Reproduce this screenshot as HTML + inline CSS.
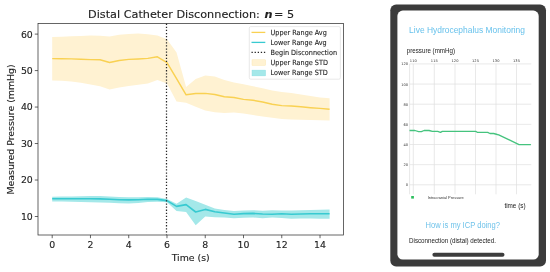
<!DOCTYPE html>
<html><head><meta charset="utf-8"><style>
html,body{margin:0;padding:0;background:#fff;width:550px;height:272px;overflow:hidden}
svg{display:block}
.tk{font-family:"DejaVu Sans",sans-serif;font-size:9.375px;fill:#222;stroke:#222;stroke-width:0.12px}
.ttl{font-family:"DejaVu Sans",sans-serif;font-size:11.25px;fill:#222;stroke:#222;stroke-width:0.12px}
.lg{font-family:"DejaVu Sans Condensed","DejaVu Sans",sans-serif;font-stretch:condensed;font-size:7.2px;fill:#222;stroke:#222;stroke-width:0.1px}
.ph{font-family:"Liberation Sans",sans-serif}
.tiny{font-family:"DejaVu Sans",sans-serif}
</style></head><body>
<svg width="550" height="272" viewBox="0 0 550 272">
<polygon points="52.20,37.10 61.77,36.80 71.33,36.30 80.90,35.90 90.46,35.50 100.03,35.70 109.59,36.50 119.16,34.80 128.72,34.10 138.28,33.60 147.85,34.20 157.41,35.40 166.98,39.20 176.55,52.50 186.11,87.00 195.68,79.00 205.24,75.50 214.81,76.50 224.37,80.00 233.94,82.40 243.50,84.30 253.06,86.20 262.63,88.30 272.19,90.40 281.76,92.00 291.32,93.00 300.89,94.40 310.45,95.90 320.02,97.40 329.58,98.20 329.58,120.50 320.02,120.30 310.45,120.10 300.89,119.80 291.32,119.40 281.76,118.90 272.19,117.80 262.63,116.60 253.06,115.00 243.50,113.40 233.94,112.40 224.37,113.10 214.81,112.30 205.24,110.60 195.68,106.70 186.11,102.70 176.55,101.50 166.98,83.50 157.41,80.00 147.85,83.40 138.28,84.80 128.72,86.00 119.16,87.50 109.59,89.40 100.03,86.20 90.46,84.50 80.90,82.80 71.33,81.50 61.77,80.70 52.20,80.50" fill="#FFF2D2"/>
<polygon points="52.20,196.70 61.77,196.60 71.33,196.50 80.90,196.20 90.46,196.00 100.03,196.00 109.59,196.50 119.16,197.00 128.72,197.30 138.28,197.20 147.85,197.00 157.41,197.30 166.98,199.10 176.55,203.80 186.11,197.50 195.68,201.00 205.24,204.70 214.81,208.40 224.37,210.00 233.94,211.10 243.50,210.50 253.06,210.20 262.63,210.70 272.19,210.20 281.76,210.40 291.32,210.40 300.89,210.20 310.45,210.00 320.02,209.70 329.58,209.40 329.58,218.80 320.02,218.80 310.45,218.60 300.89,218.60 291.32,218.80 281.76,217.90 272.19,217.50 262.63,218.20 253.06,217.50 243.50,217.80 233.94,218.20 224.37,217.50 214.81,217.20 205.24,216.50 195.68,225.30 186.11,212.00 176.55,211.00 166.98,202.30 157.41,201.80 147.85,202.00 138.28,202.90 128.72,203.60 119.16,203.20 109.59,202.70 100.03,202.40 90.46,202.20 80.90,202.00 71.33,201.80 61.77,201.60 52.20,201.40" fill="#A4E8E9"/>
<polyline points="52.20,58.60 61.77,58.70 71.33,58.90 80.90,59.20 90.46,59.60 100.03,59.70 109.59,62.50 119.16,60.50 128.72,59.40 138.28,59.00 147.85,58.40 157.41,56.80 166.98,62.60 176.55,78.70 186.11,94.80 195.68,93.50 205.24,93.40 214.81,94.50 224.37,96.80 233.94,97.50 243.50,99.40 253.06,100.30 262.63,102.00 272.19,104.20 281.76,105.60 291.32,106.00 300.89,106.80 310.45,107.70 320.02,108.40 329.58,109.20" fill="none" stroke="#F9D152" stroke-width="1.45" stroke-linejoin="round"/>
<polyline points="52.20,198.80 61.77,198.80 71.33,198.80 80.90,198.80 90.46,198.70 100.03,198.90 109.59,199.30 119.16,199.70 128.72,199.90 138.28,199.70 147.85,199.30 157.41,199.40 166.98,200.60 176.55,206.40 186.11,204.60 195.68,212.00 205.24,209.40 214.81,211.80 224.37,213.00 233.94,214.30 243.50,213.60 253.06,213.40 262.63,214.00 272.19,214.30 281.76,213.70 291.32,214.30 300.89,214.00 310.45,213.80 320.02,213.70 329.58,213.70" fill="none" stroke="#38CAD1" stroke-width="1.6" stroke-linejoin="round"/>
<line x1="166.5" y1="23.6" x2="166.5" y2="235.0" stroke="#262626" stroke-width="1.25" stroke-dasharray="1.3 1.8"/>
<rect x="38.0" y="23.5" width="305.5" height="211.5" fill="none" stroke="#333" stroke-width="0.75"/>
<line x1="34.80" y1="216.50" x2="38.0" y2="216.50" stroke="#333" stroke-width="0.75"/>
<text x="32.80" y="219.90" text-anchor="end" class="tk">10</text>
<line x1="34.80" y1="180.02" x2="38.0" y2="180.02" stroke="#333" stroke-width="0.75"/>
<text x="32.80" y="183.42" text-anchor="end" class="tk">20</text>
<line x1="34.80" y1="143.54" x2="38.0" y2="143.54" stroke="#333" stroke-width="0.75"/>
<text x="32.80" y="146.94" text-anchor="end" class="tk">30</text>
<line x1="34.80" y1="107.06" x2="38.0" y2="107.06" stroke="#333" stroke-width="0.75"/>
<text x="32.80" y="110.46" text-anchor="end" class="tk">40</text>
<line x1="34.80" y1="70.58" x2="38.0" y2="70.58" stroke="#333" stroke-width="0.75"/>
<text x="32.80" y="73.98" text-anchor="end" class="tk">50</text>
<line x1="34.80" y1="34.10" x2="38.0" y2="34.10" stroke="#333" stroke-width="0.75"/>
<text x="32.80" y="37.50" text-anchor="end" class="tk">60</text>
<line x1="52.20" y1="235.0" x2="52.20" y2="238.20" stroke="#333" stroke-width="0.75"/>
<text x="52.20" y="248.2" text-anchor="middle" class="tk">0</text>
<line x1="90.46" y1="235.0" x2="90.46" y2="238.20" stroke="#333" stroke-width="0.75"/>
<text x="90.46" y="248.2" text-anchor="middle" class="tk">2</text>
<line x1="128.72" y1="235.0" x2="128.72" y2="238.20" stroke="#333" stroke-width="0.75"/>
<text x="128.72" y="248.2" text-anchor="middle" class="tk">4</text>
<line x1="166.98" y1="235.0" x2="166.98" y2="238.20" stroke="#333" stroke-width="0.75"/>
<text x="166.98" y="248.2" text-anchor="middle" class="tk">6</text>
<line x1="205.24" y1="235.0" x2="205.24" y2="238.20" stroke="#333" stroke-width="0.75"/>
<text x="205.24" y="248.2" text-anchor="middle" class="tk">8</text>
<line x1="243.50" y1="235.0" x2="243.50" y2="238.20" stroke="#333" stroke-width="0.75"/>
<text x="243.50" y="248.2" text-anchor="middle" class="tk">10</text>
<line x1="281.76" y1="235.0" x2="281.76" y2="238.20" stroke="#333" stroke-width="0.75"/>
<text x="281.76" y="248.2" text-anchor="middle" class="tk">12</text>
<line x1="320.02" y1="235.0" x2="320.02" y2="238.20" stroke="#333" stroke-width="0.75"/>
<text x="320.02" y="248.2" text-anchor="middle" class="tk">14</text>
<text x="190.7" y="261.2" text-anchor="middle" class="tk">Time (s)</text>
<text transform="translate(14.3,129.4) rotate(-90)" text-anchor="middle" class="tk">Measured Pressure (mmHg)</text>
<text x="88.0" y="18.3" class="ttl">Distal Catheter Disconnection:</text>
<text x="264.6" y="18.3" class="ttl" font-weight="bold" font-style="italic">n</text>
<text x="274.0" y="18.3" class="ttl">= 5</text>
<rect x="249.3" y="26.6" width="91.1" height="52.6" rx="1.5" fill="#fff" fill-opacity="0.8" stroke="#e3e3e3" stroke-width="0.8"/>
<line x1="251.5" y1="32.4" x2="265.3" y2="32.4" stroke="#F9D152" stroke-width="1.3"/>
<line x1="251.5" y1="42.4" x2="265.3" y2="42.4" stroke="#38CAD1" stroke-width="1.3"/>
<line x1="251.5" y1="52.4" x2="265.3" y2="52.4" stroke="#262626" stroke-width="1.25" stroke-dasharray="1.3 1.8"/>
<rect x="252" y="59.8" width="13.6" height="5.6" fill="#FFF2D2" stroke="#FBE3A6" stroke-width="0.4"/>
<rect x="252" y="70.10000000000001" width="13.6" height="5.8" fill="#A4E8E9" stroke="#8ADDE0" stroke-width="0.4"/>
<text x="270.6" y="35.00" class="lg" textLength="56.2" lengthAdjust="spacingAndGlyphs">Upper Range Avg</text>
<text x="270.6" y="45.00" class="lg" textLength="56.0" lengthAdjust="spacingAndGlyphs">Lower Range Avg</text>
<text x="270.6" y="55.00" class="lg" textLength="66.4" lengthAdjust="spacingAndGlyphs">Begin Disconnection</text>
<text x="270.6" y="65.00" class="lg" textLength="57.3" lengthAdjust="spacingAndGlyphs">Upper Range STD</text>
<text x="270.6" y="75.00" class="lg" textLength="57.1" lengthAdjust="spacingAndGlyphs">Lower Range STD</text>
<rect x="390.3" y="4.5" width="155.7" height="262.0" rx="5.8" fill="#3b3b3b"/>
<rect x="397.4" y="10.6" width="141.3" height="249.0" rx="5.4" fill="#fff"/>
<rect x="432.4" y="252.8" width="72.1" height="4.0" rx="2.0" fill="#3d3d3d"/>
<text x="409.10" y="32.8" textLength="115.90" lengthAdjust="spacingAndGlyphs" class="ph" fill="#68C2EC" font-size="9.8" >Live Hydrocephalus Monitoring</text>
<text x="406.80" y="52.5" textLength="48.20" lengthAdjust="spacingAndGlyphs" class="ph" fill="#222" font-size="6.6" >pressure (mmHg)</text>
<line x1="413.30" y1="63.9" x2="413.30" y2="194.3" stroke="#e0e0e0" stroke-width="0.7"/>
<text x="413.30" y="61.9" text-anchor="middle" class="tiny" fill="#333" font-size="3.6">110</text>
<line x1="434.30" y1="63.9" x2="434.30" y2="194.3" stroke="#e0e0e0" stroke-width="0.7"/>
<text x="434.30" y="61.9" text-anchor="middle" class="tiny" fill="#333" font-size="3.6">115</text>
<line x1="455.00" y1="63.9" x2="455.00" y2="194.3" stroke="#e0e0e0" stroke-width="0.7"/>
<text x="455.00" y="61.9" text-anchor="middle" class="tiny" fill="#333" font-size="3.6">120</text>
<line x1="475.50" y1="63.9" x2="475.50" y2="194.3" stroke="#e0e0e0" stroke-width="0.7"/>
<text x="475.50" y="61.9" text-anchor="middle" class="tiny" fill="#333" font-size="3.6">125</text>
<line x1="496.00" y1="63.9" x2="496.00" y2="194.3" stroke="#e0e0e0" stroke-width="0.7"/>
<text x="496.00" y="61.9" text-anchor="middle" class="tiny" fill="#333" font-size="3.6">130</text>
<line x1="516.50" y1="63.9" x2="516.50" y2="194.3" stroke="#e0e0e0" stroke-width="0.7"/>
<text x="516.50" y="61.9" text-anchor="middle" class="tiny" fill="#333" font-size="3.6">135</text>
<line x1="409.6" y1="63.90" x2="531.3" y2="63.90" stroke="#e0e0e0" stroke-width="0.7"/>
<text x="408.0" y="65.40" text-anchor="end" class="tiny" fill="#333" font-size="3.6">120</text>
<line x1="409.6" y1="84.05" x2="531.3" y2="84.05" stroke="#e0e0e0" stroke-width="0.7"/>
<text x="408.0" y="85.55" text-anchor="end" class="tiny" fill="#333" font-size="3.6">100</text>
<line x1="409.6" y1="104.20" x2="531.3" y2="104.20" stroke="#e0e0e0" stroke-width="0.7"/>
<text x="408.0" y="105.70" text-anchor="end" class="tiny" fill="#333" font-size="3.6">80</text>
<line x1="409.6" y1="124.35" x2="531.3" y2="124.35" stroke="#e0e0e0" stroke-width="0.7"/>
<text x="408.0" y="125.85" text-anchor="end" class="tiny" fill="#333" font-size="3.6">60</text>
<line x1="409.6" y1="144.50" x2="531.3" y2="144.50" stroke="#e0e0e0" stroke-width="0.7"/>
<text x="408.0" y="146.00" text-anchor="end" class="tiny" fill="#333" font-size="3.6">40</text>
<line x1="409.6" y1="164.65" x2="531.3" y2="164.65" stroke="#e0e0e0" stroke-width="0.7"/>
<text x="408.0" y="166.15" text-anchor="end" class="tiny" fill="#333" font-size="3.6">20</text>
<line x1="409.6" y1="184.80" x2="531.3" y2="184.80" stroke="#e0e0e0" stroke-width="0.7"/>
<text x="408.0" y="186.30" text-anchor="end" class="tiny" fill="#333" font-size="3.6">0</text>
<line x1="409.6" y1="63.9" x2="409.6" y2="194.3" stroke="#d8d8d8" stroke-width="0.6"/>
<polyline points="409.5,130.5 415,130.5 418.6,131.6 421.4,131.6 424.1,130.5 429.1,130.5 432.3,131.4 437.7,131.4 440.5,132.3 442.3,131.4 475.7,131.4 477.3,132.3 487.7,132.3 490,133.5 493.6,133.5 497.3,134.5 498.7,134.8 519.0,144.6 530.9,144.6" fill="none" stroke="#45C37E" stroke-width="1.3" stroke-linejoin="round"/>
<rect x="411.2" y="196" width="2.7" height="2.6" fill="#2DBE5E"/>
<text x="427.70" y="198.9" textLength="36.10" lengthAdjust="spacingAndGlyphs" class="ph" fill="#333" font-size="3.9" >Intracranial Pressure</text>
<text x="504.40" y="208.4" textLength="21.20" lengthAdjust="spacingAndGlyphs" class="ph" fill="#222" font-size="6.4" >time (s)</text>
<text x="425.60" y="227.7" textLength="74.30" lengthAdjust="spacingAndGlyphs" class="ph" fill="#70C3EA" font-size="8.4" >How is my ICP doing?</text>
<text x="409.00" y="243.2" textLength="87.00" lengthAdjust="spacingAndGlyphs" class="ph" fill="#222" font-size="6.4" >Disconnection (distal) detected.</text>
</svg>
</body></html>
